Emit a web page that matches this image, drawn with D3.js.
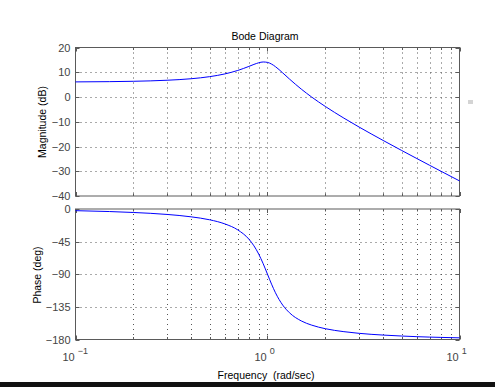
<!DOCTYPE html>
<html><head><meta charset="utf-8">
<script src="https://cdn.jsdelivr.net/npm/d3@7"></script>
<style>
html,body{margin:0;padding:0;background:#fff;}
svg{display:block;font-family:"Liberation Sans",Arial,Helvetica,sans-serif;}
</style></head>
<body>
<svg id="chart" width="495" height="387"></svg>
<script>
// Frequencies (rad/sec)
const freq = [0.1,0.15,0.2,0.3,0.4,0.5,0.6,0.7,0.8,0.85,0.9,0.95,1.0,1.05,1.1,1.2,1.3,1.5,1.7,2,2.5,3,4,5,6,7,8,10];
// Magnitude (dB)
const magnitude = [6.10,6.20,6.35,6.77,7.38,8.22,9.33,10.73,12.36,13.17,13.83,14.15,13.98,13.30,12.26,9.75,7.29,3.18,-0.04,-3.82,-8.54,-12.14,-17.55,-21.61,-24.88,-27.62,-29.98,-33.90];
// Phase (deg)
const phase = [-2.3,-3.5,-4.8,-7.5,-10.8,-14.9,-20.6,-28.8,-41.6,-50.8,-62.2,-75.6,-90,-103.7,-115.5,-132.5,-143.0,-154.4,-160.2,-165.1,-169.2,-171.5,-173.9,-175.2,-176.1,-176.7,-177.1,-177.7];

const magTicks = [20,10,0,-10,-20,-30,-40];
const phaseTicks = [0,-45,-90,-135,-180];
const freqDecades = [0.1,1,10];
const decadeExp = ["-1","0","1"];
const title = "Bode Diagram";
const xLabel = "Frequency  (rad/sec)";
const magLabel = "Magnitude (dB)";
const phaseLabel = "Phase (deg)";

const svg = d3.select("#chart");
const x = d3.scaleLog().domain([0.1,10]).range([75.5,459.5]);
const yMag = d3.scaleLinear().domain([-40,20]).range([196,47.5]);
const yPh = d3.scaleLinear().domain([-180,0]).range([339.5,209]);

// all log ticks
const logTicks = [];
[0.1,1].forEach(d=>{for(let k=1;k<10;k++) logTicks.push(d*k);});
logTicks.push(10);

const frameCol = "#5a5a5a";
const gridCol = "#555";
const labelCol = "#444";

function panel(y, ticks, data){
  const [x0,x1] = x.range();
  const [yb,yt] = y.range();
  const g = svg.append("g");
  // grid
  logTicks.filter(t=>t>0.1 && t<10).forEach(t=>{
    g.append("line").attr("x1",Math.round(x(t))+0.5).attr("x2",Math.round(x(t))+0.5)
      .attr("y1",yt).attr("y2",yb).attr("stroke",gridCol).attr("stroke-width",1).attr("stroke-dasharray","1,4");
  });
  ticks.filter(t=>y(t)>yt+1 && y(t)<yb-1).forEach(t=>{
    g.append("line").attr("x1",x0).attr("x2",x1)
      .attr("y1",Math.round(y(t))+0.5).attr("y2",Math.round(y(t))+0.5)
      .attr("stroke",gridCol).attr("stroke-width",1).attr("stroke-dasharray","1,4");
  });
  // ticks on x (top & bottom)
  logTicks.forEach(t=>{
    const major = freqDecades.includes(t);
    const L = major ? 4 : 2.5;
    const xx = Math.round(x(t))+0.5;
    g.append("line").attr("x1",xx).attr("x2",xx).attr("y1",yb).attr("y2",yb-L).attr("stroke",frameCol);
    g.append("line").attr("x1",xx).attr("x2",xx).attr("y1",yt).attr("y2",yt+L).attr("stroke",frameCol);
  });
  // ticks on y (left & right)
  ticks.forEach(t=>{
    const yy = Math.round(y(t))+0.5;
    g.append("line").attr("x1",x0).attr("x2",x0+4).attr("y1",yy).attr("y2",yy).attr("stroke",frameCol);
    g.append("line").attr("x1",x1).attr("x2",x1-4).attr("y1",yy).attr("y2",yy).attr("stroke",frameCol);
    g.append("text").attr("x",x0-5).attr("y",y(t)+4).attr("text-anchor","end")
      .attr("font-size",11).attr("fill",labelCol).text(String(t).replace("-","\u2212"));
  });
  // frame
  g.append("rect").attr("x",x0).attr("y",yt).attr("width",x1-x0).attr("height",yb-yt)
    .attr("fill","none").attr("stroke",frameCol).attr("stroke-width",1);
  // curve
  const line = d3.line().x((d,i)=>x(freq[i])).y(d=>y(d)).curve(d3.curveMonotoneX);
  g.append("path").datum(data).attr("d",line).attr("fill","none").attr("stroke","#0000ff").attr("stroke-width",1);
}

panel(yMag, magTicks, magnitude);
panel(yPh, phaseTicks, phase);

// x tick labels (10^n)
freqDecades.forEach((d,i)=>{
  const t = svg.append("text").attr("x",x(d)-13).attr("y",361).attr("font-size",11).attr("fill",labelCol);
  t.append("tspan").text("10");
  t.append("tspan").attr("dx",3).attr("dy",-7).attr("font-size",9).text(decadeExp[i].replace("-","\u2212"));
});

// title and labels
svg.append("text").attr("x",265).attr("y",40).attr("text-anchor","middle").attr("font-size",10.5).attr("fill","#000").text(title);
svg.append("text").attr("x",266).attr("y",379).attr("text-anchor","middle").attr("font-size",10.5).attr("fill","#000")
  .style("white-space","pre").text(xLabel);
svg.append("text").attr("transform","translate(46,122) rotate(-90)").attr("text-anchor","middle").attr("font-size",10.5).attr("fill","#000").text(magLabel);
svg.append("text").attr("transform","translate(41,275) rotate(-90)").attr("text-anchor","middle").attr("font-size",10.5).attr("fill","#000").text(phaseLabel);

// small gray square at right
svg.append("rect").attr("x",468).attr("y",100).attr("width",5).attr("height",4).attr("fill","#d4d4d4");
// black strip at bottom
svg.append("rect").attr("x",0).attr("y",382).attr("width",495).attr("height",5).attr("fill","#111");
</script>
</body></html>
